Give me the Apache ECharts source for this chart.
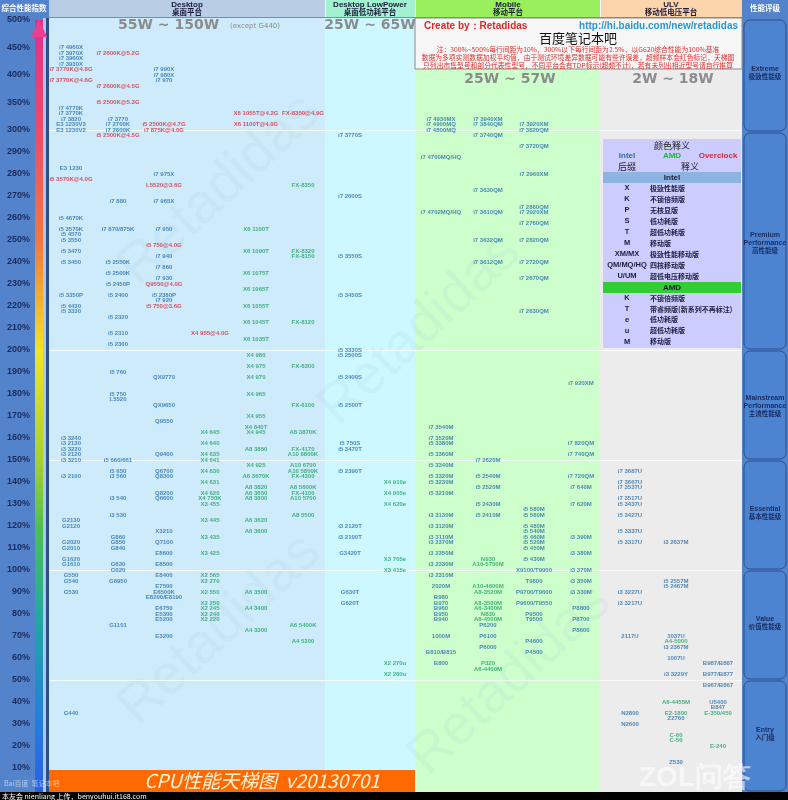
<!DOCTYPE html>
<html>
<head>
<meta charset="utf-8">
<script src="https://cdn.jsdelivr.net/npm/echarts@6/dist/echarts.min.js"></script>
<style>
  html, body { margin: 0; padding: 0; background: #fff; }
  #main { width: 788px; height: 800px; }
</style>
</head>
<body>
<div id="main"></div>
<script>
// index axis: 300%~500% rows are 10% apart, below 300% rows are 2.5% apart
const indexTicks = [10, 20, 30, 40, 50, 60, 70, 80, 90, 100, 110, 120, 130, 140, 150, 160, 170, 180, 190,
  200, 210, 220, 230, 240, 250, 260, 270, 280, 290, 300, 350, 400, 450, 500];
const guideLines = [50, 100, 150, 200, 300];

// desktop platform (name, index %)
const desktop1 = [['i7 4960X', 450], ['i7 3970X', 440], ['i7 3960X', 430], ['i7 3930X', 420], ['i7 3770K@4.8G', 410],
  ['i7 3770K@4.6G', 390], ['i7 4770K', 340], ['i7 3770K', 330], ['i7 3820', 320], ['E3 1230V3', 310], ['E3 1230V2', 300],
  ['E3 1230', 282.5], ['i5 3570K@4.0G', 277.5], ['i5 4670K', 260], ['i5 3570K', 255], ['i5 4570', 252.5], ['i5 3550', 250],
  ['i5 3470', 245], ['i5 3450', 240], ['i5 3350P', 225], ['i5 4430', 220], ['i5 3330', 217.5], ['i3 3240', 160],
  ['i3 2130', 157.5], ['i3 3220', 155], ['i3 2120', 152.5], ['i3 3210', 150], ['i3 2100', 142.5], ['G2130', 122.5],
  ['G2120', 120], ['G2020', 112.5], ['G2010', 110], ['G1620', 105], ['G1610', 102.5], ['G550', 97.5], ['G540', 95],
  ['G530', 90], ['G440', 35]];
const desktop2 = [['i7 2600K@5.2G', 440], ['i7 2600K@4.5G', 380], ['i5 2500K@5.3G', 350], ['i7 3770', 320], ['i7 2700K', 310],
  ['i7 2600K', 300], ['i5 2500K@4.5G', 297.5], ['i7 880', 267.5], ['i7 870/875K', 255], ['i5 2550K', 240], ['i5 2500K', 235],
  ['i5 2450P', 230], ['i5 2400', 225], ['i5 2320', 215], ['i5 2310', 207.5], ['i5 2300', 202.5], ['i5 760', 190],
  ['i5 750', 180], ['L5520', 177.5], ['i5 660/661', 150], ['i5 650', 145], ['i3 560', 142.5], ['i3 540', 132.5],
  ['i3 530', 125], ['G860', 115], ['G850', 112.5], ['G840', 110], ['G630', 102.5], ['G620', 100], ['G6950', 95], ['G1101', 75]];
const desktop3 = [['i7 990X', 410], ['i7 980X', 400], ['i7 970', 390], ['i5 2500K@4.7G', 310], ['i7 875K@4.0G', 300],
  ['i7 975X', 280], ['L5520@3.6G', 275], ['i7 965X', 267.5], ['i7 950', 255], ['i5 750@4.0G', 247.5], ['i7 940', 242.5],
  ['i7 860', 237.5], ['i7 930', 232.5], ['Q9550@4.0G', 230], ['i5 2380P', 225], ['i7 920', 222.5], ['i5 750@3.6G', 220],
  ['QX9770', 187.5], ['QX9650', 175], ['Q9550', 167.5], ['Q9400', 152.5], ['Q6700', 145], ['Q8300', 142.5], ['Q8200', 135],
  ['Q6600', 132.5], ['X3210', 117.5], ['Q7100', 112.5], ['E8600', 107.5], ['E8500', 102.5], ['E8400', 97.5], ['E7500', 92.5],
  ['E6500K', 90], ['E8200/E8190', 87.5], ['E6750', 82.5], ['E5300', 80], ['E5200', 77.5], ['E3200', 70]];
const desktop4 = [['X4 955@4.0G', 207.5], ['X4 645', 162.5], ['X4 640', 157.5], ['X4 635', 152.5], ['X4 641', 150],
  ['X4 630', 145], ['X4 631', 140], ['X4 620', 135], ['X4 750K', 132.5], ['X3 455', 130], ['X3 445', 122.5], ['X3 435', 115],
  ['X3 425', 107.5], ['X2 565', 97.5], ['X2 270', 95], ['X2 550', 90], ['X2 250', 85], ['X2 245', 82.5], ['X2 240', 80],
  ['X2 220', 77.5]];
const desktop5 = [['X6 1055T@4.2G', 330], ['X6 1100T@4.0G', 310], ['X6 1100T', 255], ['X6 1090T', 245], ['X6 1075T', 235],
  ['X6 1065T', 227.5], ['X6 1055T', 220], ['X6 1045T', 212.5], ['X6 1035T', 205], ['X4 980', 197.5], ['X4 975', 192.5],
  ['X4 970', 187.5], ['X4 965', 180], ['X4 955', 170], ['X4 840T', 165], ['X4 945', 162.5], ['A8 3850', 155], ['X4 925', 147.5],
  ['A6 3670K', 142.5], ['A8 3820', 137.5], ['A6 3650', 135], ['A8 3800', 132.5], ['A6 3620', 122.5], ['A6 3600', 117.5],
  ['A6 3500', 90], ['A4 3400', 82.5], ['A4 3300', 72.5]];
const desktop6 = [['FX-8350@4.9G', 330], ['FX-8350', 275], ['FX-8320', 245], ['FX-8150', 242.5], ['FX-8120', 212.5],
  ['FX-6300', 192.5], ['FX-6100', 175], ['A8 3870K', 162.5], ['FX-4170', 155], ['A10 6800K', 152.5], ['A10 6700', 147.5],
  ['A10 5800K', 145], ['FX-4300', 142.5], ['A8 5600K', 137.5], ['FX-4100', 135], ['A10 5700', 132.5], ['A8 5500', 125],
  ['A6 5400K', 75], ['A4 5300', 67.5]];

// desktop low power platform
const lowPower1 = [['i7 3770S', 297.5], ['i7 2600S', 270], ['i5 3550S', 242.5], ['i5 3450S', 225], ['i5 3330S', 200],
  ['i5 2500S', 197.5], ['i5 2400S', 187.5], ['i5 2500T', 175], ['i5 750S', 157.5], ['i5 3470T', 155], ['i5 2390T', 145],
  ['i3 2120T', 120], ['i3 2100T', 115], ['G3420T', 107.5], ['G630T', 90], ['G620T', 85]];
const lowPower2 = [['X4 910e', 140], ['X4 905e', 135], ['X4 620e', 130], ['X3 705e', 105], ['X3 415e', 100],
  ['X2 270u', 57.5], ['X2 260u', 52.5]];

// mobile platform
const mobile1 = [['i7 4930MX', 320], ['i7 4900MQ', 310], ['i7 4800MQ', 300], ['i7 4700MQ/HQ', 287.5], ['i7 4702MQ/HQ', 262.5],
  ['i7 3540M', 165], ['i7 3520M', 160], ['i5 3380M', 157.5], ['i5 3360M', 152.5], ['i5 3340M', 147.5], ['i5 3320M', 142.5],
  ['i5 3230M', 140], ['i5 3210M', 135], ['i3 3130M', 125], ['i3 3120M', 120], ['i3 3110M', 115], ['i3 2370M', 112.5],
  ['i3 2350M', 107.5], ['i3 2330M', 102.5], ['i3 2310M', 97.5], ['2020M', 92.5], ['B980', 87.5], ['B970', 85], ['B960', 82.5],
  ['B950', 80], ['B940', 77.5], ['1000M', 70], ['B810/B815', 62.5], ['B800', 57.5]];
const mobile2 = [['i7 3940XM', 320], ['i7 3840QM', 310], ['i7 3740QM', 297.5], ['i7 3630QM', 272.5], ['i7 3610QM', 262.5],
  ['i7 3632QM', 250], ['i7 3612QM', 240], ['i7 2620M', 150], ['i5 2540M', 142.5], ['i5 2520M', 137.5], ['i5 2430M', 130],
  ['i5 2410M', 125], ['N930', 105], ['A10-5750M', 102.5], ['A10-4600M', 92.5], ['A8-3520M', 90], ['A8-3500M', 85],
  ['A6-3400M', 82.5], ['N830', 80], ['A8-4500M', 77.5], ['P6200', 75], ['P6100', 70], ['P6000', 65], ['P320', 57.5],
  ['A6-4400M', 55]];
const mobile3 = [['i7 3920XM', 310], ['i7 3820QM', 300], ['i7 3720QM', 292.5], ['i7 2960XM', 280], ['i7 2860QM', 265],
  ['i7 2920XM', 262.5], ['i7 2760QM', 257.5], ['i7 2820QM', 250], ['i7 2720QM', 240], ['i7 2670QM', 232.5],
  ['i7 2630QM', 217.5], ['i5 580M', 127.5], ['i5 560M', 125], ['i5 480M', 120], ['i5 540M', 117.5], ['i5 460M', 115],
  ['i5 520M', 112.5], ['i5 450M', 110], ['i5 430M', 105], ['X9100/T9900', 100], ['T9800', 95], ['P9700/T9600', 90],
  ['P9600/T9550', 85], ['P9500', 80], ['T9500', 77.5], ['P4600', 67.5], ['P4500', 62.5]];
const mobile4 = [['i7 920XM', 185], ['i7 820QM', 157.5], ['i7 740QM', 152.5], ['i7 720QM', 142.5], ['i7 640M', 137.5],
  ['i7 620M', 130], ['i3 390M', 115], ['i3 380M', 107.5], ['i3 370M', 100], ['i3 350M', 95], ['i3 330M', 90],
  ['P8800', 82.5], ['P8700', 77.5], ['P8600', 72.5]];

// ULV platform
const ulv1 = [['i7 3687U', 145], ['i7 3667U', 140], ['i7 3537U', 137.5], ['i7 3517U', 132.5], ['i5 3437U', 130],
  ['i5 3427U', 125], ['i5 3337U', 117.5], ['i5 3317U', 112.5], ['i3 3227U', 90], ['i3 3217U', 85], ['2117U', 70],
  ['N2800', 35], ['N2600', 30]];
const ulv2 = [['i3 2637M', 112.5], ['i5 2557M', 95], ['i5 2467M', 92.5], ['1037U', 70], ['A4-5000', 67.5], ['i3 2367M', 65],
  ['1007U', 60], ['i3 3229Y', 52.5], ['A6-4455M', 40], ['E2-1800', 35], ['Z2760', 32.5], ['C-60', 25], ['C-50', 22.5],
  ['Z530', 12.5]];
const ulv3 = [['B987/B887', 57.5], ['B977/B877', 52.5], ['B967/B867', 47.5], ['U5400', 40], ['B847', 37.5],
  ['E-350/450', 35], ['E-240', 20]];

const columns = [
  [desktop1, 71], [desktop2, 118], [desktop3, 164], [desktop4, 210], [desktop5, 256], [desktop6, 303],
  [lowPower1, 350], [lowPower2, 395],
  [mobile1, 441], [mobile2, 488], [mobile3, 534], [mobile4, 581],
  [ulv1, 630], [ulv2, 676], [ulv3, 718]
];

const toPos = p => (p <= 300 ? p : 300 + (p - 300) / 4);
const tickPos = indexTicks.map(toPos);
const amdRe = /^(X[2346] |FX-|A\d+[ -]|E-|E2-|C-|N[89]30|P320)/;

const groups = { intel: [], amd: [], oc: [] };
columns.forEach(([list, x]) => {
  list.forEach(([name, pct]) => {
    const kind = name.indexOf('@') >= 0 ? 'oc' : (amdRe.test(name) ? 'amd' : 'intel');
    groups[kind].push([x, toPos(pct), name]);
  });
});
const colors = { intel: '#2a6ea8', amd: '#22a064', oc: '#d8283c' };
const FONT = 'Liberation Sans, Arial, sans-serif';

function labelSeries(kind) {
  return {
    type: 'scatter',
    name: kind,
    data: groups[kind],
    symbolSize: 1,
    itemStyle: { color: 'rgba(0,0,0,0)' },
    silent: true,
    z: 5,
    label: {
      show: true,
      position: 'inside',
      formatter: p => p.value[2],
      color: colors[kind],
      fontSize: 6,
      fontWeight: 'bold',
      fontFamily: FONT
    }
  };
}

const series = ['intel', 'amd', 'oc'].map(labelSeries);
series[0].markLine = {
  silent: true,
  symbol: 'none',
  label: { show: false },
  lineStyle: { color: '#ffffff', type: 'solid', width: 1, opacity: 0.8 },
  data: guideLines.map(p => ({ yAxis: toPos(p) }))
};

// page decoration
const rect = (x, y, w, h, fill, z, extra) => Object.assign({
  type: 'rect', shape: { x: x, y: y, width: w, height: h }, style: { fill: fill }, z: z, silent: true
}, extra || {});
const txt = (x, y, text, fill, font, align, z, extra) => Object.assign({
  type: 'text', x: x, y: y, silent: true, z: z == null ? 20 : z,
  style: { text: text, fill: fill, font: font, textAlign: align || 'center', textVerticalAlign: 'middle' }
}, extra || {});
const box = (y, h) => rect(744, y, 42, h, '#4d84d2', 10, {
  shape: { x: 744, y: y, width: 42, height: h, r: 6 },
  style: { fill: '#4d84d2', stroke: '#2a4f90', lineWidth: 1 }
});

const graphic = [
  rect(0, 0, 49, 800, '#5384cb', -10),
  rect(49, 0, 276, 800, '#cdebfa', -10),
  rect(325, 0, 90, 800, '#cdf8ff', -10),
  rect(415, 0, 185, 800, '#ccffcc', -10),
  rect(600, 0, 142, 800, '#ececec', -10),
  rect(742, 0, 46, 800, '#5384cb', -10),
  rect(35, 20, 8, 772, {
    type: 'linear', x: 0, y: 0, x2: 0, y2: 1,
    colorStops: [
      { offset: 0, color: '#e0308c' }, { offset: 0.14, color: '#ec4a6a' }, { offset: 0.29, color: '#f07a40' },
      { offset: 0.43, color: '#f2e324' }, { offset: 0.57, color: '#a8d030' }, { offset: 0.66, color: '#4cbf52' },
      { offset: 0.78, color: '#1fa8a4' }, { offset: 0.9, color: '#2380d8' }, { offset: 1, color: '#2a60e6' }
    ]
  }, -5),
  { type: 'polygon', shape: { points: [[31, 37], [39, 19], [47, 37]] }, style: { fill: '#e8408f' }, z: -4, silent: true },
  rect(43, 18, 3, 782, '#a9c9ef', -5),
  rect(46, 18, 3, 782, '#2c4f8a', -5),
  // header row
  rect(49, 0, 276, 17, '#b9cde5', 10),
  rect(325, 0, 90, 17, '#a2f2d2', 10),
  rect(415, 0, 185, 17, '#99ef5c', 10),
  rect(600, 0, 142, 17, '#fcd5ad', 10),
  rect(49, 17, 693, 1, '#7a8aa8', 11),
  rect(325, 0, 1, 17, '#ffffff', 11),
  rect(415, 0, 1, 17, '#ffffff', 11),
  rect(600, 0, 1, 17, '#ffffff', 11),
  txt(24, 8, '综合性能指数', '#ffffff', 'bold 7.5px Noto Sans CJK SC'),
  txt(187, 5, 'Desktop', '#1c1c3c', 'bold 8px Liberation Sans'),
  txt(187, 12.5, '桌面平台', '#1c1c3c', 'bold 7.5px Noto Sans CJK SC'),
  txt(370, 5, 'Desktop LowPower', '#1c1c3c', 'bold 8px Liberation Sans'),
  txt(370, 12.5, '桌面低功耗平台', '#1c1c3c', 'bold 7.5px Noto Sans CJK SC'),
  txt(508, 5, 'Mobile', '#1c1c3c', 'bold 8px Liberation Sans'),
  txt(508, 12.5, '移动平台', '#1c1c3c', 'bold 7.5px Noto Sans CJK SC'),
  txt(671, 5, 'ULV', '#1c1c3c', 'bold 8px Liberation Sans'),
  txt(671, 12.5, '移动低电压平台', '#1c1c3c', 'bold 7.5px Noto Sans CJK SC'),
  txt(765, 8, '性能评级', '#ffffff', 'bold 7.5px Noto Sans CJK SC'),
  // wattage notes
  txt(118, 25, '55W ~ 150W', '#8c8c8c', 'bold 14px DejaVu Sans', 'left'),
  txt(230, 26, '(except G440)', '#8c8c8c', '7px DejaVu Sans', 'left'),
  txt(370, 25, '25W ~ 65W', '#8c8c8c', 'bold 14px DejaVu Sans'),
  txt(510, 79, '25W ~ 57W', '#8c8c8c', 'bold 14px DejaVu Sans'),
  txt(673, 79, '2W ~ 18W', '#8c8c8c', 'bold 14px DejaVu Sans'),
  // note box
  rect(415, 18, 327, 51, '#f6f6f6', 10, { style: { fill: '#f6f6f6', stroke: '#8a8a8a', lineWidth: 1 } }),
  txt(424, 26, 'Create by：Retadidas', '#e02828', 'bold 10px Liberation Sans', 'left'),
  txt(738, 26, 'http://hi.baidu.com/new/retadidas', '#2a98d0', 'bold 10px Liberation Sans', 'right'),
  txt(578, 38, '百度笔记本吧', '#111111', '13px Noto Sans CJK SC'),
  txt(578, 49, '注：300%~500%每行间距为10%，300%以下每行间距为2.5%，以G620综合性能为100%基准', '#e03030', '6.8px Noto Sans CJK SC'),
  txt(578, 57.5, '数据为多项实测数据加权平均值，由于测试环境差异数据可能有些许误差，超频样本会红色标记，天梯图', '#e03030', '6.8px Noto Sans CJK SC'),
  txt(578, 65, '只列出市售型号和部分代表性型号，不同平台会有TDP标示(超频不计)，若有未列出相近型号请自行推算', '#e03030', '6.8px Noto Sans CJK SC'),
  // colour legend box
  rect(603, 139, 138, 209, '#ccccff', 10),
  txt(672, 146, '颜色释义', '#222222', '9px Noto Sans CJK SC'),
  txt(627, 156, 'Intel', '#2a6ea8', 'bold 8px Liberation Sans'),
  txt(672, 156, 'AMD', '#22b040', 'bold 8px Liberation Sans'),
  txt(718, 156, 'Overclock', '#d8283c', 'bold 8px Liberation Sans'),
  txt(627, 167, '后缀', '#222222', '9px Noto Sans CJK SC'),
  txt(690, 167, '释义', '#222222', '9px Noto Sans CJK SC'),
  rect(603, 172, 138, 11, '#8db3e2', 11),
  txt(672, 177.5, 'Intel', '#1c1c3c', 'bold 8px Liberation Sans'),
  rect(603, 282, 138, 11, '#33cc33', 11),
  txt(672, 287.5, 'AMD', '#1c1c3c', 'bold 8px Liberation Sans'),
  // right rating column
  box(20, 111), box(133, 216), box(351, 108), box(461, 108), box(571, 108), box(681, 110),
  txt(765, 69, 'Extreme', '#1b2a5c', 'bold 7px Liberation Sans'),
  txt(765, 76.5, '极致性能级', '#1b2a5c', 'bold 6.5px Noto Sans CJK SC'),
  txt(765, 235, 'Premium', '#1b2a5c', 'bold 7px Liberation Sans'),
  txt(765, 243, 'Performance', '#1b2a5c', 'bold 7px Liberation Sans'),
  txt(765, 251, '高性能级', '#1b2a5c', 'bold 6.5px Noto Sans CJK SC'),
  txt(765, 398, 'Mainstream', '#1b2a5c', 'bold 7px Liberation Sans'),
  txt(765, 406, 'Performance', '#1b2a5c', 'bold 7px Liberation Sans'),
  txt(765, 414, '主流性能级', '#1b2a5c', 'bold 6.5px Noto Sans CJK SC'),
  txt(765, 509, 'Essential', '#1b2a5c', 'bold 7px Liberation Sans'),
  txt(765, 517, '基本性能级', '#1b2a5c', 'bold 6.5px Noto Sans CJK SC'),
  txt(765, 619, 'Value', '#1b2a5c', 'bold 7px Liberation Sans'),
  txt(765, 627, '价值性能级', '#1b2a5c', 'bold 6.5px Noto Sans CJK SC'),
  txt(765, 730, 'Entry', '#1b2a5c', 'bold 7px Liberation Sans'),
  txt(765, 738, '入门级', '#1b2a5c', 'bold 6.5px Noto Sans CJK SC'),
  // watermarks
  txt(220, 190, 'Retadidas', 'rgba(150,180,205,0.11)', '56px Liberation Sans', 'center', 1, { rotation: 0.75 }),
  txt(420, 330, 'Retadidas', 'rgba(150,180,205,0.11)', '56px Liberation Sans', 'center', 1, { rotation: 0.75 }),
  txt(220, 630, 'Retadidas', 'rgba(150,180,205,0.11)', '56px Liberation Sans', 'center', 1, { rotation: 0.75 }),
  txt(510, 680, 'Retadidas', 'rgba(150,180,205,0.11)', '56px Liberation Sans', 'center', 1, { rotation: 0.75 }),
  // bottom banner
  rect(49, 770, 366, 22, '#ff6a00', 30),
  txt(262, 781, 'CPU性能天梯图  v20130701', '#fff3dc', 'italic 19px Noto Sans CJK SC', 'center', 31),
  txt(4, 783, 'Bai百度  笔记本吧', 'rgba(255,255,255,0.55)', '7px Noto Sans CJK SC', 'left', 31),
  txt(695, 778, 'ZOL问答', 'rgba(255,255,255,0.6)', 'bold 28px Liberation Sans', 'center', 31),
  rect(0, 792, 788, 8, '#000000', 40),
  txt(2, 796, '本友会 nienliang 上传，benyouhui.it168.com', '#ffffff', '7px Noto Sans CJK SC', 'left', 41)
];

// legend rows (suffix, meaning)
const intelSuffix = [['X', '极致性能版'], ['K', '不锁倍频版'], ['P', '无核显版'], ['S', '低功耗版'], ['T', '超低功耗版'],
  ['M', '移动版'], ['XM/MX', '极致性能移动版'], ['QM/MQ/HQ', '四核移动版'], ['U/UM', '超低电压移动版']];
const amdSuffix = [['K', '不锁倍频版'], ['T', '带睿频版(新系列不再标注)'], ['e', '低功耗版'], ['u', '超低功耗版'], ['M', '移动版']];
intelSuffix.forEach(([s, m], i) => {
  graphic.push(txt(627, 188.3 + i * 11, s, '#1c1c3c', 'bold 7.5px Liberation Sans'));
  graphic.push(txt(650, 188.3 + i * 11, m, '#1c1c3c', 'bold 7px Noto Sans CJK SC', 'left'));
});
amdSuffix.forEach(([s, m], i) => {
  graphic.push(txt(627, 298 + i * 10.9, s, '#1c1c3c', 'bold 7.5px Liberation Sans'));
  graphic.push(txt(650, 298 + i * 10.9, m, '#1c1c3c', 'bold 7px Noto Sans CJK SC', 'left'));
});

const chart = echarts.init(document.getElementById('main'));
chart.setOption({
  animation: false,
  grid: { left: 49, right: 46, top: 20, bottom: 10 },
  xAxis: { type: 'value', min: 49, max: 742, show: false },
  yAxis: {
    type: 'value', min: 0, max: 350, interval: 2.5,
    axisLine: { show: false }, axisTick: { show: false }, splitLine: { show: false },
    axisLabel: {
      margin: 19, color: '#1b2b5b', fontSize: 9, fontWeight: 'bold', fontFamily: FONT,
      formatter: v => {
        const i = tickPos.findIndex(t => Math.abs(t - v) < 0.01);
        return i >= 0 ? indexTicks[i] + '%' : '';
      }
    }
  },
  graphic: graphic,
  series: series
});
</script>
</body>
</html>
